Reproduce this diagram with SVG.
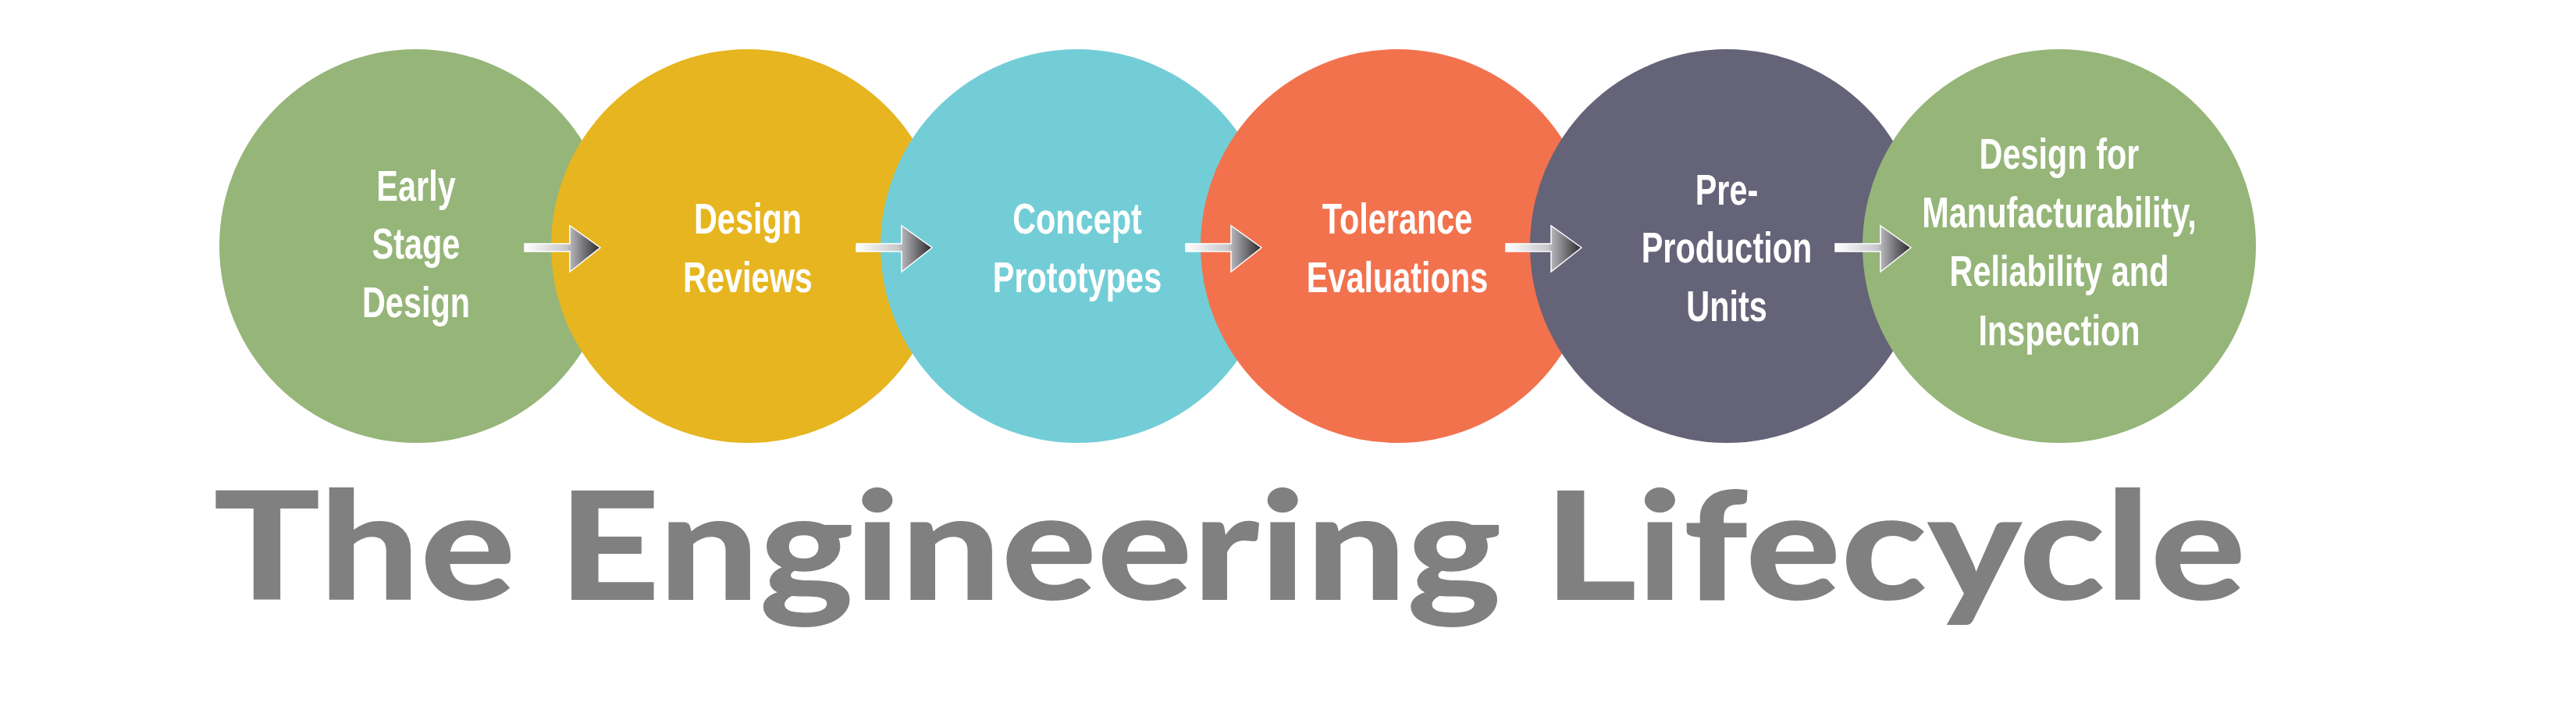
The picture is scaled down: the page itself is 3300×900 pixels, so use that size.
<svg xmlns="http://www.w3.org/2000/svg" width="3300" height="900" viewBox="0 0 3300 900">
<defs>
<style>
.lbl{font-family:"Liberation Sans",Arial,sans-serif;font-weight:bold;font-size:56px;fill:#fff;text-anchor:middle}
.title{font-family:Lato,"Open Sans",sans-serif;font-weight:900;font-size:192px;fill:#808080}
</style>
<linearGradient id="g" x1="0" y1="0" x2="1" y2="0">
<stop offset="0" stop-color="#ffffff"/><stop offset="0.55" stop-color="#c8c8cc"/><stop offset="1" stop-color="#2a2a2e"/>
</linearGradient>
<path id="arr" d="M0,-5 H58 V-28 L97,0 L58,31 V5 H0 Z" fill="url(#g)" stroke="#fff" stroke-width="1.5"/>
</defs>
<rect width="3300" height="900" fill="#fff"/>
<g id="n1"><circle cx="533" cy="315" r="252" fill="#96B579"/>
<text class="lbl" transform="translate(533,0) scale(0.74,1)"><tspan x="0" y="257">Early</tspan><tspan x="0" y="331">Stage</tspan><tspan x="0" y="406">Design</tspan></text></g>
<g id="n2"><circle cx="958" cy="315" r="252" fill="#E6B520"/>
<text class="lbl" transform="translate(958,0) scale(0.74,1)"><tspan x="0" y="299">Design</tspan><tspan x="0" y="374">Reviews</tspan></text></g>
<g id="n3"><circle cx="1380" cy="315" r="252" fill="#73CDD6"/>
<text class="lbl" transform="translate(1380,0) scale(0.74,1)"><tspan x="0" y="299">Concept</tspan><tspan x="0" y="374">Prototypes</tspan></text></g>
<g id="n4"><circle cx="1790" cy="315" r="252" fill="#F2724E"/>
<text class="lbl" transform="translate(1790,0) scale(0.74,1)"><tspan x="0" y="299">Tolerance</tspan><tspan x="0" y="374">Evaluations</tspan></text></g>
<g id="n5"><circle cx="2212" cy="315" r="252" fill="#656378"/>
<text class="lbl" transform="translate(2212,0) scale(0.74,1)"><tspan x="0" y="262">Pre-</tspan><tspan x="0" y="336">Production</tspan><tspan x="0" y="411">Units</tspan></text></g>
<g id="n6"><circle cx="2638" cy="315" r="252" fill="#96B579"/>
<text class="lbl" transform="translate(2638,0) scale(0.74,1)"><tspan x="0" y="216">Design for</tspan><tspan x="0" y="291">Manufacturability,</tspan><tspan x="0" y="366">Reliability and</tspan><tspan x="0" y="442">Inspection</tspan></text></g>
<g id="connectors">
<use href="#arr" x="672" y="317"/>
<use href="#arr" x="1097" y="317"/>
<use href="#arr" x="1519" y="317"/>
<use href="#arr" x="1929" y="317"/>
<use href="#arr" x="2351" y="317"/>
</g>
<text class="title" x="273" y="768" textLength="2604" lengthAdjust="spacingAndGlyphs">The Engineering Lifecycle</text>
</svg>
